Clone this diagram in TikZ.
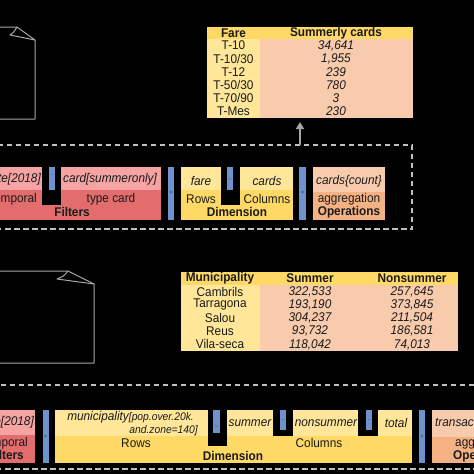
\documentclass[tikz,border=0pt]{standalone}
\usepackage{fontspec}
\usepackage{graphicx}
\setmainfont{Liberation Sans}
\usetikzlibrary{arrows.meta}
\definecolor{thdr}{HTML}{FFD966}
\definecolor{tcol}{HTML}{FFE699}
\definecolor{tbody}{HTML}{F8CBAD}
\definecolor{fup}{HTML}{F5A3A3}
\definecolor{flo}{HTML}{E36C6C}
\definecolor{dup}{HTML}{FFE699}
\definecolor{dlo}{HTML}{FFD966}
\definecolor{oup}{HTML}{F8CBAD}
\definecolor{olo}{HTML}{F4B183}
\definecolor{barblue}{HTML}{6D92CC}
\definecolor{barlbl}{HTML}{1F3864}
\definecolor{dashgray}{HTML}{BFBFBF}
\definecolor{docgray}{HTML}{A6A6A6}
\definecolor{ink}{HTML}{1A1A1A}
\newcommand\mydfs{\fontsize{11.8}{13}\selectfont}
\newcommand\st[1]{\scalebox{1}[1.07]{#1}}
\tikzset{
  lbl/.style={font=\mydfs, inner sep=0pt, text=ink},
  itl/.style={font=\mydfs\itshape, inner sep=0pt, text=ink},
  itsm/.style={font=\fontsize{10.3}{12}\selectfont\itshape, inner sep=0pt, text=ink},
  bfl/.style={font=\mydfs\bfseries, inner sep=0pt, text=ink},
  barl/.style={font=\fontsize{6}{7}\selectfont, inner sep=0pt, text=barlbl},
  bar/.style={fill=barblue},
  dashbox/.style={draw=dashgray, dash pattern=on 5.5pt off 3.5pt, line width=1.4pt},
  doc/.style={draw=docgray, line width=1pt, line join=round},
  arr/.style={draw=docgray, line width=2pt, -{Triangle[length=7pt,width=8pt]}},
}
\begin{document}
\begin{tikzpicture}[x=1pt,y=-1pt]
\useasboundingbox (0,0) rectangle (474,474);
\fill[black] (0,0) rectangle (474,474);
\begin{scope}
\clip (0,0) rectangle (474,474);

% ---------- document icons ----------
\draw[doc] (-5,27) -- (17,27) -- (35,40) -- (35,119) -- (-5,119);
\draw[doc] (17,27) .. controls (14,32) .. (10,35) -- (35,40);
\draw[doc] (-5,271) -- (68,271) -- (94,284) -- (94,363) -- (-5,363);
\draw[doc] (68,271) .. controls (64,276) .. (57,279) -- (94,284);

% ---------- table 1 ----------
\fill[thdr] (207,27) rectangle (413,39);
\fill[tcol] (207,39) rectangle (260,118);
\fill[tbody] (260,39) rectangle (413,118);
\node[bfl] (t1h1) at (233.5,33) {\st{Fare}};
\node[bfl] (t1h2) at (336,33) {\st{Summerly cards}};
\node[lbl] (t1a1) at (233.5,45.6) {\st{T-10}};
\node[lbl] (t1a2) at (233.5,58.8) {\st{T-10/30}};
\node[lbl] (t1a3) at (233.5,72) {\st{T-12}};
\node[lbl] (t1a4) at (233.5,85.2) {\st{T-50/30}};
\node[lbl] (t1a5) at (233.5,98.4) {\st{T-70/90}};
\node[lbl] (t1a6) at (233.5,111.6) {\st{T-Mes}};
\node[itl] (t1b1) at (336,45.6) {\st{34,641}};
\node[itl] (t1b2) at (336,58.8) {\st{1,955}};
\node[itl] (t1b3) at (336,72) {\st{239}};
\node[itl] (t1b4) at (336,85.2) {\st{780}};
\node[itl] (t1b5) at (336,98.4) {\st{3}};
\node[itl] (t1b6) at (336,111.6) {\st{230}};

% ---------- query 1 ----------
\draw[dashbox] (-10,145) rectangle (412,229);
\coordinate (q1top) at (300,145);
\coordinate (t1bot) at (300,122);
\draw[arr] (q1top) -- (t1bot);

% filters
\fill[flo] (-20,167) rectangle (161,220);
\fill[fup] (-20,167) rectangle (42,190);
\fill[fup] (61,167) rectangle (161,190);
\fill[black] (42,167) rectangle (61,205);
\fill[bar] (49,167) rectangle (55,190);
\node[barl] (b1a) at (52,176) {-};
\node[itl, anchor=east] (f1a) at (41,179) {\st{date[2018]}};
\node[itl] (f1b) at (110,179) {\st{card[summeronly]}};
\node[lbl, anchor=east] (f1c) at (37,199) {\st{temporal}};
\node[lbl] (f1d) at (111,199) {\st{type card}};
\node[bfl] (f1e) at (72,212) {\st{Filters}};
% plus bar
\fill[bar] (168,167) rectangle (174,220);
\node[barl] (b1b) at (171,193) {+};
% dimension
\fill[dlo] (181,167) rectangle (293,220);
\fill[dup] (181,167) rectangle (221,190);
\fill[dup] (240,167) rectangle (293,190);
\fill[black] (221,167) rectangle (240,205);
\fill[bar] (227,167) rectangle (233,190);
\node[barl] (b1c) at (230,180) {\char`\~};
\node[itl] (d1a) at (201,181) {\st{fare}};
\node[lbl] (d1b) at (201,199) {\st{Rows}};
\node[itl] (d1c) at (267,181) {\st{cards}};
\node[lbl] (d1d) at (267,199) {\st{Columns}};
\node[bfl] (d1e) at (237,212) {\st{Dimension}};
% plus bar
\fill[bar] (299,167) rectangle (306,220);
\node[barl] (b1d) at (302.5,193) {+};
% operations
\fill[olo] (313,167) rectangle (385,220);
\fill[oup] (313,167) rectangle (385,192);
\node[itl] (o1a) at (349,181) {\st{cards\{count\}}};
\node[lbl] (o1b) at (349,199) {\st{aggregation}};
\node[bfl] (o1c) at (349,212) {\st{Operations}};

% ---------- table 2 ----------
\fill[thdr] (181,272) rectangle (458,285);
\fill[tcol] (181,285) rectangle (260,351);
\fill[tbody] (260,285) rectangle (458,351);
\node[bfl] (t2h1) at (220,278.5) {\st{Municipality}};
\node[bfl] (t2h2) at (310,278.5) {\st{Summer}};
\node[bfl] (t2h3) at (412,278.5) {\st{Nonsummer}};
\node[lbl] (t2a1) at (220,291.6) {\st{Cambrils}};
\node[lbl] (t2a2) at (220,304.8) {\st{Tarragona}};
\node[lbl] (t2a3) at (220,318) {\st{Salou}};
\node[lbl] (t2a4) at (220,331.2) {\st{Reus}};
\node[lbl] (t2a5) at (220,344.4) {\st{Vila-seca}};
\node[itl] (t2b1) at (310,291.6) {\st{322,533}};
\node[itl] (t2b2) at (310,304.8) {\st{193,190}};
\node[itl] (t2b3) at (310,318) {\st{304,237}};
\node[itl] (t2b4) at (310,331.2) {\st{93,732}};
\node[itl] (t2b5) at (310,344.4) {\st{118,042}};
\node[itl] (t2c1) at (412,291.6) {\st{257,645}};
\node[itl] (t2c2) at (412,304.8) {\st{373,845}};
\node[itl] (t2c3) at (412,318) {\st{211,504}};
\node[itl] (t2c4) at (412,331.2) {\st{186,581}};
\node[itl] (t2c5) at (412,344.4) {\st{74,013}};

% ---------- query 2 ----------
\draw[dashbox] (-10,385) rectangle (490,469);
% filters
\fill[flo] (-20,410) rectangle (35,463);
\fill[fup] (-20,410) rectangle (35,435);
\node[itl, anchor=east] (f2a) at (34,422) {\st{date[2018]}};
\node[lbl, anchor=east] (f2b) at (28,443) {\st{temporal}};
\node[bfl, anchor=east] (f2c) at (24,455) {\st{Filters}};
% plus bar
\fill[bar] (43,410) rectangle (49,463);
\node[barl] (b2a) at (46,437) {+};
% dimension
\fill[dlo] (55,410) rectangle (412,463);
\fill[dup] (55,410) rectangle (208,436);
\fill[dup] (227,410) rectangle (273,436);
\fill[dup] (293,410) rectangle (358,436);
\fill[dup] (378,410) rectangle (412,436);
\fill[black] (208,410) rectangle (227,446);
\fill[black] (273,410) rectangle (293,436);
\fill[black] (358,410) rectangle (378,436);
\fill[bar] (213,410) rectangle (220,433);
\fill[bar] (280,410) rectangle (286,430);
\fill[bar] (366,410) rectangle (372,430);
\node[barl] (b2b) at (216.5,427) {\char`\~};
\node[barl] (b2c) at (283,421) {-};
\node[barl] (b2d) at (369,421) {-};
\node[anchor=east, inner sep=0pt] (d2a) at (194,417) {\st{\textit{\mydfs\color{ink}municipality}{\fontsize{10.3}{12}\selectfont\itshape\color{ink}[pop.over.20k.}}};
\node[itsm, anchor=east] (d2b) at (198,431) {\st{and.zone=140]}};
\node[lbl] (d2c) at (136,443) {\st{Rows}};
\node[itl] (d2d) at (250,423) {\st{summer}};
\node[itl] (d2e) at (326,423) {\st{nonsummer}};
\node[itl] (d2f) at (396,423) {\st{total}};
\node[lbl] (d2g) at (319,443) {\st{Columns}};
\node[bfl] (d2h) at (233,456) {\st{Dimension}};
% plus bar
\fill[bar] (419,410) rectangle (425,463);
\node[barl] (b2e) at (422,437) {+};
% operations
\fill[olo] (432,410) rectangle (500,463);
\fill[oup] (432,410) rectangle (500,437);
\node[itl, anchor=west] (o2a) at (435,423) {\st{transactions\{count\}}};
\node[lbl, anchor=west] (o2b) at (455,443) {\st{aggregation}};
\node[bfl, anchor=west] (o2c) at (453,456) {\st{Operations}};
\end{scope}
\end{tikzpicture}
\end{document}
